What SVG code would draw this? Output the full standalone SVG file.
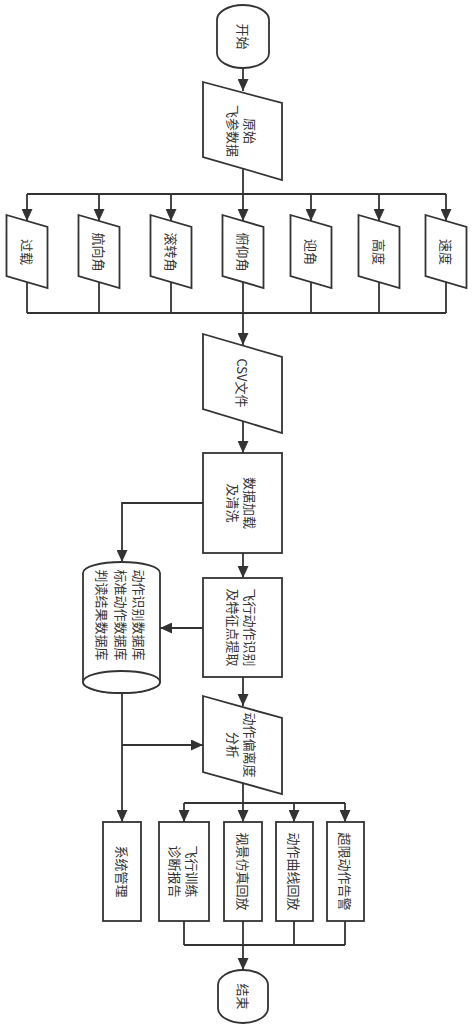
<svg xmlns="http://www.w3.org/2000/svg" width="474" height="1031" viewBox="0 0 474 1031">
<style>
.s{fill:#fff;stroke:#333;stroke-width:1.8}
.c{fill:none;stroke:#333;stroke-width:1.8}
.a{marker-end:url(#ah)}
text{font-family:"Noto Sans CJK SC","Noto Sans",sans-serif;font-size:13px;fill:#333;text-anchor:middle;dominant-baseline:central}
</style>
<defs>
<marker id="ah" markerUnits="userSpaceOnUse" markerWidth="12" markerHeight="11" refX="12" refY="5.5" orient="auto">
<path d="M0,0 L12,5.5 L0,11 Z" fill="#333"/>
</marker>
</defs>
<rect width="474" height="1031" fill="#fff"/>
<g id="connectors">
<path class="c a" d="M243,68 V91"/>
<path class="c" d="M243,169 V194 M27,194 H446"/>
<path class="c a" d="M27,194 V221"/>
<path class="c a" d="M99,194 V221"/>
<path class="c a" d="M171,194 V221"/>
<path class="c a" d="M243,194 V221"/>
<path class="c a" d="M311,194 V221"/>
<path class="c a" d="M379,194 V221"/>
<path class="c a" d="M446,194 V221"/>
<path class="c" d="M27,282 V313 M99,282 V313 M171,282 V313 M243,282 V313 M311,282 V313 M379,282 V313 M446,282 V313 M27,313 H446"/>
<path class="c a" d="M243,313 V345"/>
<path class="c a" d="M243,421 V453"/>
<path class="c a" d="M243,553 V578"/>
<path class="c a" d="M203,503 H122 V562"/>
<path class="c a" d="M203,628 H160"/>
<path class="c a" d="M243,677 V706"/>
<path class="c a" d="M122,693 V822"/>
<path class="c a" d="M122,745 H203"/>
<path class="c" d="M243,783 V803 M184,803 H345"/>
<path class="c a" d="M184,803 V822"/>
<path class="c a" d="M243,803 V822"/>
<path class="c a" d="M294,803 V822"/>
<path class="c a" d="M345,803 V822"/>
<path class="c" d="M184,921 V945 M243,921 V945 M294,921 V945 M345,921 V945 M184,945 H345"/>
<path class="c a" d="M243,945 V970"/>
</g>
<g id="start">
<path class="s" d="M217,20 A26,15 0 0 1 269,20 L269,53 A26,15 0 0 1 217,53 Z"/>
<text transform="rotate(90 243 36.5)" x="243" y="36.5">开始</text>
</g>
<g id="raw">
<polygon class="s" points="203,82 282,103 282,180 203,157"/>
<text transform="rotate(90 242.5 131)" x="242.5" y="131"><tspan x="242.5" dy="-8.5">原始</tspan><tspan x="242.5" dy="17">飞参数据</tspan></text>
</g>
<g id="p1"><polygon class="s" points="6.5,215 47.5,227 47.5,288 6.5,276"/><text transform="rotate(90 27 252)" x="27" y="252">过载</text></g>
<g id="p2"><polygon class="s" points="78.5,215 119.5,227 119.5,288 78.5,276"/><text transform="rotate(90 99 252)" x="99" y="252">航向角</text></g>
<g id="p3"><polygon class="s" points="150.5,215 191.5,227 191.5,288 150.5,276"/><text transform="rotate(90 171 252)" x="171" y="252">滚转角</text></g>
<g id="p4"><polygon class="s" points="222.5,215 263.5,227 263.5,288 222.5,276"/><text transform="rotate(90 243 252)" x="243" y="252">俯仰角</text></g>
<g id="p5"><polygon class="s" points="290.5,215 331.5,227 331.5,288 290.5,276"/><text transform="rotate(90 311 252)" x="311" y="252">迎角</text></g>
<g id="p6"><polygon class="s" points="358.5,215 399.5,227 399.5,288 358.5,276"/><text transform="rotate(90 379 252)" x="379" y="252">高度</text></g>
<g id="p7"><polygon class="s" points="425.5,215 466.5,227 466.5,288 425.5,276"/><text transform="rotate(90 446 252)" x="446" y="252">速度</text></g>
<g id="csv">
<polygon class="s" points="203,334 282,357 282,433 203,409"/>
<text transform="rotate(90 242.5 383)" x="242.5" y="383">CSV文件</text>
</g>
<g id="load">
<rect class="s" x="203" y="453" width="79" height="100"/>
<text transform="rotate(90 242.5 503)" x="242.5" y="503"><tspan x="242.5" dy="-8.5">数据加载</tspan><tspan x="242.5" dy="17">及清洗</tspan></text>
</g>
<g id="recog">
<rect class="s" x="203" y="578" width="79" height="99"/>
<text transform="rotate(90 242.5 627.5)" x="242.5" y="627.5"><tspan x="242.5" dy="-8.5">飞行动作识别</tspan><tspan x="242.5" dy="17">及特征点提取</tspan></text>
</g>
<g id="db">
<path class="s" d="M83,573 A38.5,11 0 0 1 160,573 L160,682 A38.5,11 0 0 1 83,682 Z"/>
<ellipse class="s" cx="121.5" cy="682" rx="38.5" ry="11"/>
<text transform="rotate(90 121.5 615)" x="121.5" y="615"><tspan x="121.5" dy="-18.5">动作识别数据库</tspan><tspan x="121.5" dy="18.5">标准动作数据库</tspan><tspan x="121.5" dy="18.5">判读结果数据库</tspan></text>
</g>
<g id="dev">
<polygon class="s" points="203,696 282,718 282,794 203,772"/>
<text transform="rotate(90 242.5 745)" x="242.5" y="745"><tspan x="242.5" dy="-8.5">动作偏离度</tspan><tspan x="242.5" dy="17">分析</tspan></text>
</g>
<g id="sys"><rect class="s" x="103" y="822" width="38" height="99"/><text transform="rotate(90 122 871.5)" x="122" y="871.5">系统管理</text></g>
<g id="report"><rect class="s" x="159" y="822" width="50" height="99"/><text transform="rotate(90 184 871.5)" x="184" y="871.5"><tspan x="184" dy="-8.5">飞行训练</tspan><tspan x="184" dy="17">诊断报告</tspan></text></g>
<g id="visual"><rect class="s" x="224" y="822" width="38" height="99"/><text transform="rotate(90 243 871.5)" x="243" y="871.5">视景仿真回放</text></g>
<g id="curve"><rect class="s" x="276" y="822" width="37" height="99"/><text transform="rotate(90 294.5 871.5)" x="294.5" y="871.5">动作曲线回放</text></g>
<g id="alarm"><rect class="s" x="327" y="822" width="37" height="99"/><text transform="rotate(90 345.5 871.5)" x="345.5" y="871.5">超限动作告警</text></g>
<g id="end">
<path class="s" d="M218,985 A25,15 0 0 1 268,985 L268,1008 A25,15 0 0 1 218,1008 Z"/>
<text transform="rotate(90 243 996.5)" x="243" y="996.5">结束</text>
</g>
</svg>
